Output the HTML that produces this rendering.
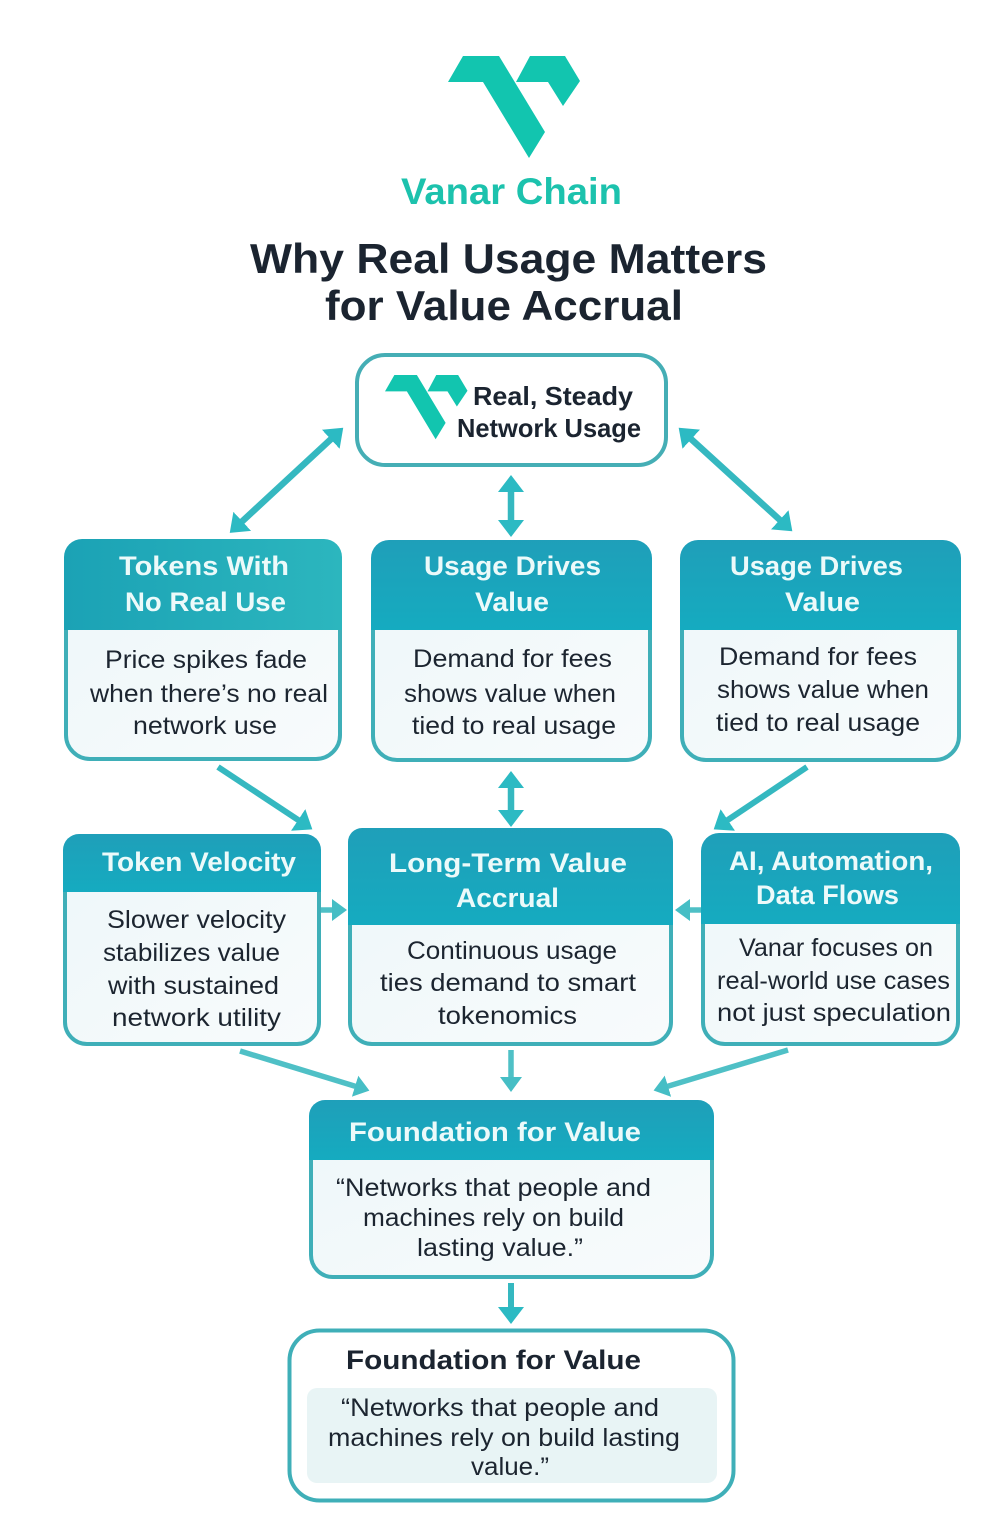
<!DOCTYPE html>
<html lang="en">
<head>
<meta charset="utf-8">
<title>Why Real Usage Matters for Value Accrual</title>
<style>
html,body{margin:0;padding:0;background:#fff}
svg{display:block}
text{font-family:"Liberation Sans",sans-serif}
.b{font-size:25px;fill:#1c2530}
.q{font-size:25px;fill:#1c2530}
.h{font-size:27px;font-weight:bold;fill:#ecfafa}
.d{font-weight:bold;fill:#1b2430}
.card{fill:url(#body);stroke:#3fafb8;stroke-width:4}
.a{stroke:#35b8c0;stroke-width:6;fill:none;marker-end:url(#ah)}
.ab{stroke:#35b8c0;stroke-width:6.5;fill:none;marker-start:url(#ah);marker-end:url(#ah)}
.s{stroke:#4fc0c6;stroke-width:5.5;fill:none;marker-end:url(#as)}
</style>
</head>
<body>
<svg xmlns="http://www.w3.org/2000/svg" width="1008" height="1536" viewBox="0 0 1008 1536">
<defs>
<linearGradient id="body" x1="0" y1="0" x2="1" y2="1"><stop offset="0" stop-color="#edf7f9"/><stop offset="1" stop-color="#f8fbfc"/></linearGradient>
<linearGradient id="head" x1="0" y1="0" x2="0" y2="1"><stop offset="0" stop-color="#1f9fb9"/><stop offset="1" stop-color="#15abc0"/></linearGradient>
<linearGradient id="head1" x1="0" y1="0" x2="1" y2="0"><stop offset="0" stop-color="#1ba2b5"/><stop offset="1" stop-color="#2cb6be"/></linearGradient>
<marker id="ah" markerUnits="userSpaceOnUse" markerWidth="18" markerHeight="26" viewBox="0 0 18 26" refX="1" refY="13" orient="auto-start-reverse"><path d="M0 0L17 13L0 26Z" fill="#2cbac3"/></marker>
<marker id="as" markerUnits="userSpaceOnUse" markerWidth="16" markerHeight="22" viewBox="0 0 16 22" refX="1" refY="11" orient="auto-start-reverse"><path d="M0 0L15 11L0 22Z" fill="#46bec5"/></marker>
<g id="logo"><path d="M463 56H499L545 132L529 158L483 82H448Z"/><path d="M530 56H565L580 81L563 106L548 82H516Z"/></g>
</defs>

<rect width="1008" height="1536" fill="#fff"/>

<use href="#logo" fill="#12c5af"/>
<text x="401" y="204" font-size="37" font-weight="bold" fill="#1cc2ad" textLength="221" lengthAdjust="spacingAndGlyphs">Vanar Chain</text>
<text x="250" y="273" class="d" font-size="42" textLength="517" lengthAdjust="spacingAndGlyphs">Why Real Usage Matters</text>
<text x="325" y="320" class="d" font-size="42" textLength="358" lengthAdjust="spacingAndGlyphs">for Value Accrual</text>

<!-- Top box -->
<rect x="357" y="355" width="309" height="110" rx="28" fill="#fff" stroke="#45aeb5" stroke-width="4"/>
<use href="#logo" fill="#12c5af" transform="translate(385 375) scale(.625 .63) translate(-448 -56)"/>
<text x="473" y="405" class="d" font-size="26" textLength="160" lengthAdjust="spacingAndGlyphs">Real, Steady</text>
<text x="457" y="437" class="d" font-size="26" textLength="184" lengthAdjust="spacingAndGlyphs">Network Usage</text>

<!-- Arrows row 1 -->
<line class="ab" x1="241.5" y1="522" x2="331.5" y2="438.6"/>
<line class="ab" x1="511" y1="491" x2="511" y2="521"/>
<line class="ab" x1="690.5" y1="438.5" x2="780.5" y2="520.5"/>

<!-- Card 1 -->
<rect class="card" x="66" y="541" width="274" height="218" rx="24"/>
<path d="M64 630V557A18 18 0 0 1 82 539H324A18 18 0 0 1 342 557V630Z" fill="url(#head1)"/>
<text x="119" y="575" class="h" textLength="170" lengthAdjust="spacingAndGlyphs">Tokens With</text>
<text x="125" y="611" class="h" textLength="161" lengthAdjust="spacingAndGlyphs">No Real Use</text>
<text x="105" y="668" class="b" textLength="202" lengthAdjust="spacingAndGlyphs">Price spikes fade</text>
<text x="90" y="702" class="b" textLength="238" lengthAdjust="spacingAndGlyphs">when there’s no real</text>
<text x="133" y="734" class="b" textLength="144" lengthAdjust="spacingAndGlyphs">network use</text>

<!-- Card 2 -->
<rect class="card" x="373" y="542" width="277" height="218" rx="24"/>
<path d="M371 630V558A18 18 0 0 1 389 540H634A18 18 0 0 1 652 558V630Z" fill="url(#head)"/>
<text x="424" y="575" class="h" textLength="177" lengthAdjust="spacingAndGlyphs">Usage Drives</text>
<text x="475" y="611" class="h" textLength="74" lengthAdjust="spacingAndGlyphs">Value</text>
<text x="413" y="667" class="b" textLength="199" lengthAdjust="spacingAndGlyphs">Demand for fees</text>
<text x="404" y="702" class="b" textLength="212" lengthAdjust="spacingAndGlyphs">shows value when</text>
<text x="412" y="734" class="b" textLength="204" lengthAdjust="spacingAndGlyphs">tied to real usage</text>

<!-- Card 3 -->
<rect class="card" x="682" y="542" width="277" height="218" rx="24"/>
<path d="M680 630V558A18 18 0 0 1 698 540H943A18 18 0 0 1 961 558V630Z" fill="url(#head)"/>
<text x="730" y="575" class="h" textLength="173" lengthAdjust="spacingAndGlyphs">Usage Drives</text>
<text x="785" y="611" class="h" textLength="75" lengthAdjust="spacingAndGlyphs">Value</text>
<text x="719" y="665" class="b" textLength="198" lengthAdjust="spacingAndGlyphs">Demand for fees</text>
<text x="717" y="698" class="b" textLength="212" lengthAdjust="spacingAndGlyphs">shows value when</text>
<text x="716" y="731" class="b" textLength="204" lengthAdjust="spacingAndGlyphs">tied to real usage</text>

<!-- Arrows row 2 -->
<line class="a" x1="218" y1="767" x2="299" y2="820.5"/>
<line class="ab" stroke-width="6" x1="511" y1="787" x2="511" y2="811"/>
<line class="a" x1="807" y1="767" x2="727" y2="820.5"/>
<line class="s" x1="321" y1="910" x2="333" y2="910"/>
<line class="s" x1="701" y1="910" x2="689" y2="910"/>

<!-- Card 4 -->
<rect class="card" x="65" y="836" width="254" height="208" rx="22"/>
<path d="M63 892V850A16 16 0 0 1 79 834H305A16 16 0 0 1 321 850V892Z" fill="url(#head)"/>
<text x="102" y="871" class="h" textLength="194" lengthAdjust="spacingAndGlyphs">Token Velocity</text>
<text x="107" y="928" class="b" textLength="179" lengthAdjust="spacingAndGlyphs">Slower velocity</text>
<text x="103" y="961" class="b" textLength="177" lengthAdjust="spacingAndGlyphs">stabilizes value</text>
<text x="108" y="994" class="b" textLength="171" lengthAdjust="spacingAndGlyphs">with sustained</text>
<text x="112" y="1026" class="b" textLength="169" lengthAdjust="spacingAndGlyphs">network utility</text>

<!-- Card 5 -->
<rect class="card" x="350" y="830" width="321" height="214" rx="22"/>
<path d="M348 925V842A14 14 0 0 1 362 828H659A14 14 0 0 1 673 842V925Z" fill="url(#head)"/>
<text x="389" y="872" class="h" textLength="238" lengthAdjust="spacingAndGlyphs">Long-Term Value</text>
<text x="456" y="907" class="h" textLength="103" lengthAdjust="spacingAndGlyphs">Accrual</text>
<text x="407" y="959" class="b" textLength="210" lengthAdjust="spacingAndGlyphs">Continuous usage</text>
<text x="380" y="991" class="b" textLength="256" lengthAdjust="spacingAndGlyphs">ties demand to smart</text>
<text x="438" y="1024" class="b" textLength="139" lengthAdjust="spacingAndGlyphs">tokenomics</text>

<!-- Card 6 -->
<rect class="card" x="703" y="835" width="255" height="209" rx="22"/>
<path d="M701 924V851A18 18 0 0 1 719 833H942A18 18 0 0 1 960 851V924Z" fill="url(#head)"/>
<text x="729" y="870" class="h" textLength="204" lengthAdjust="spacingAndGlyphs">AI, Automation,</text>
<text x="756" y="904" class="h" textLength="143" lengthAdjust="spacingAndGlyphs">Data Flows</text>
<text x="739" y="956" class="b" textLength="194" lengthAdjust="spacingAndGlyphs">Vanar focuses on</text>
<text x="717" y="989" class="b" textLength="233" lengthAdjust="spacingAndGlyphs">real-world use cases</text>
<text x="717" y="1021" class="b" textLength="234" lengthAdjust="spacingAndGlyphs">not just speculation</text>

<!-- Arrows row 3 -->
<line class="s" x1="240" y1="1051" x2="356" y2="1086.5"/>
<line class="s" x1="511" y1="1050" x2="511" y2="1078"/>
<line class="s" x1="788" y1="1050" x2="667" y2="1086.5"/>

<!-- Card 7 -->
<rect class="card" x="311" y="1102" width="401" height="175" rx="22"/>
<path d="M309 1160V1116A16 16 0 0 1 325 1100H698A16 16 0 0 1 714 1116V1160Z" fill="url(#head)"/>
<text x="349" y="1141" class="h" textLength="292" lengthAdjust="spacingAndGlyphs">Foundation for Value</text>
<text x="336" y="1196" class="q" textLength="315" lengthAdjust="spacingAndGlyphs">“Networks that people and</text>
<text x="363" y="1226" class="q" textLength="261" lengthAdjust="spacingAndGlyphs">machines rely on build</text>
<text x="417" y="1256" class="q" textLength="166" lengthAdjust="spacingAndGlyphs">lasting value.”</text>

<line class="a" x1="511" y1="1283" x2="511" y2="1308"/>

<!-- Card 8 -->
<rect x="289.5" y="1330.5" width="444" height="170" rx="30" fill="#fff" stroke="#3fafb8" stroke-width="4"/>
<rect x="307" y="1388" width="410" height="95" rx="10" fill="#e8f4f5"/>
<text x="346" y="1369" class="d" font-size="27" textLength="295" lengthAdjust="spacingAndGlyphs">Foundation for Value</text>
<text x="341" y="1416" class="q" textLength="318" lengthAdjust="spacingAndGlyphs">“Networks that people and</text>
<text x="328" y="1446" class="q" textLength="352" lengthAdjust="spacingAndGlyphs">machines rely on build lasting</text>
<text x="471" y="1475" class="q" textLength="78" lengthAdjust="spacingAndGlyphs">value.”</text>
</svg>
</body>
</html>
